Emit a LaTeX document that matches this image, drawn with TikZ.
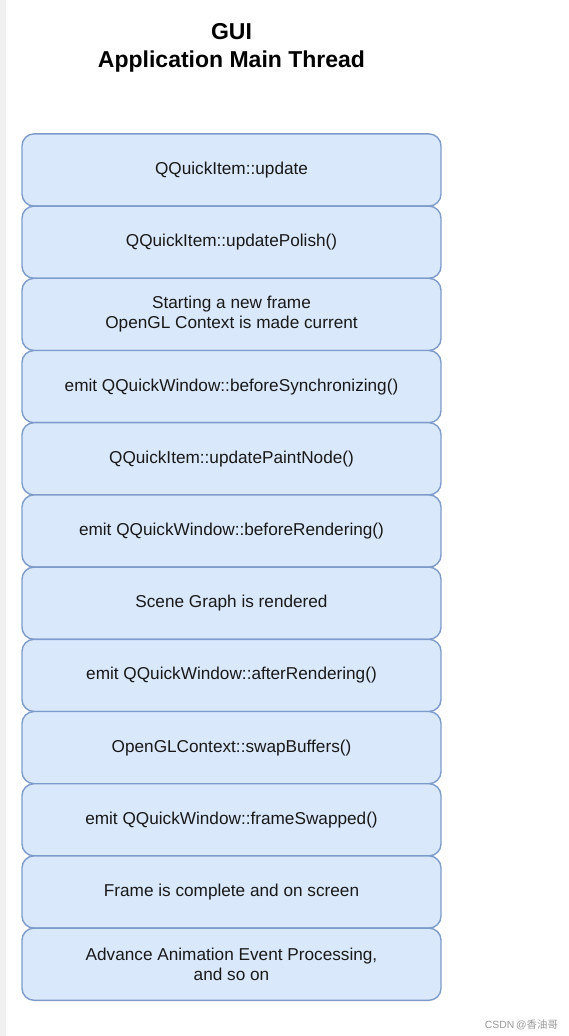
\documentclass[tikz,border=0pt]{standalone}
\usepackage{fontspec}
\setmainfont{Liberation Sans}
\newfontfamily\cjkfont{Noto Sans CJK SC}
\usetikzlibrary{positioning}

\definecolor{boxfill}{HTML}{DAE8FC}
\definecolor{boxline}{HTML}{7E9CCB}

\begin{document}
\begin{tikzpicture}[x=0.5pt, y=-0.5pt]
    \tikzstyle{box}=[draw=boxline, fill=boxfill, line width=0.7pt, rounded corners=6pt,
      minimum width=209.5pt, minimum height=36.1pt, inner sep=0pt, outer sep=0pt,
      align=center, font=\fontsize{8.6}{10}\selectfont, text=black!90]

    \useasboundingbox (0, 0) rectangle (568, 1036);
    \fill[black!6] (0, 0) rectangle (6, 1036);

    \node[align=center, font=\fontsize{11.5}{14}\selectfont\bfseries] (title) at (231.5, 48) {GUI\\Application Main Thread};

    \node[box] (b1) at (231.5, 170) {QQuickItem::update};
    \node[box, below=0cm of b1] (b2) {QQuickItem::updatePolish()};
    \node[box, below=0cm of b2] (b3) {Starting a new frame\\OpenGL Context is made current};
    \node[box, below=0cm of b3] (b4) {emit QQuickWindow::beforeSynchronizing()};
    \node[box, below=0cm of b4] (b5) {QQuickItem::updatePaintNode()};
    \node[box, below=0cm of b5] (b6) {emit QQuickWindow::beforeRendering()};
    \node[box, below=0cm of b6] (b7) {Scene Graph is rendered};
    \node[box, below=0cm of b7] (b8) {emit QQuickWindow::afterRendering()};
    \node[box, below=0cm of b8] (b9) {OpenGLContext::swapBuffers()};
    \node[box, below=0cm of b9] (b10) {emit QQuickWindow::frameSwapped()};
    \node[box, below=0cm of b10] (b11) {Frame is complete and on screen};
    \node[box, below=0cm of b11] (b12) {Advance Animation Event Processing,\\and so on};

    \node[anchor=east, text=black!40, font=\fontsize{5.2}{6}\selectfont] (mark) at (565, 1025) {CSDN\,@{\cjkfont 香油哥}};
  \end{tikzpicture}
\end{document}
